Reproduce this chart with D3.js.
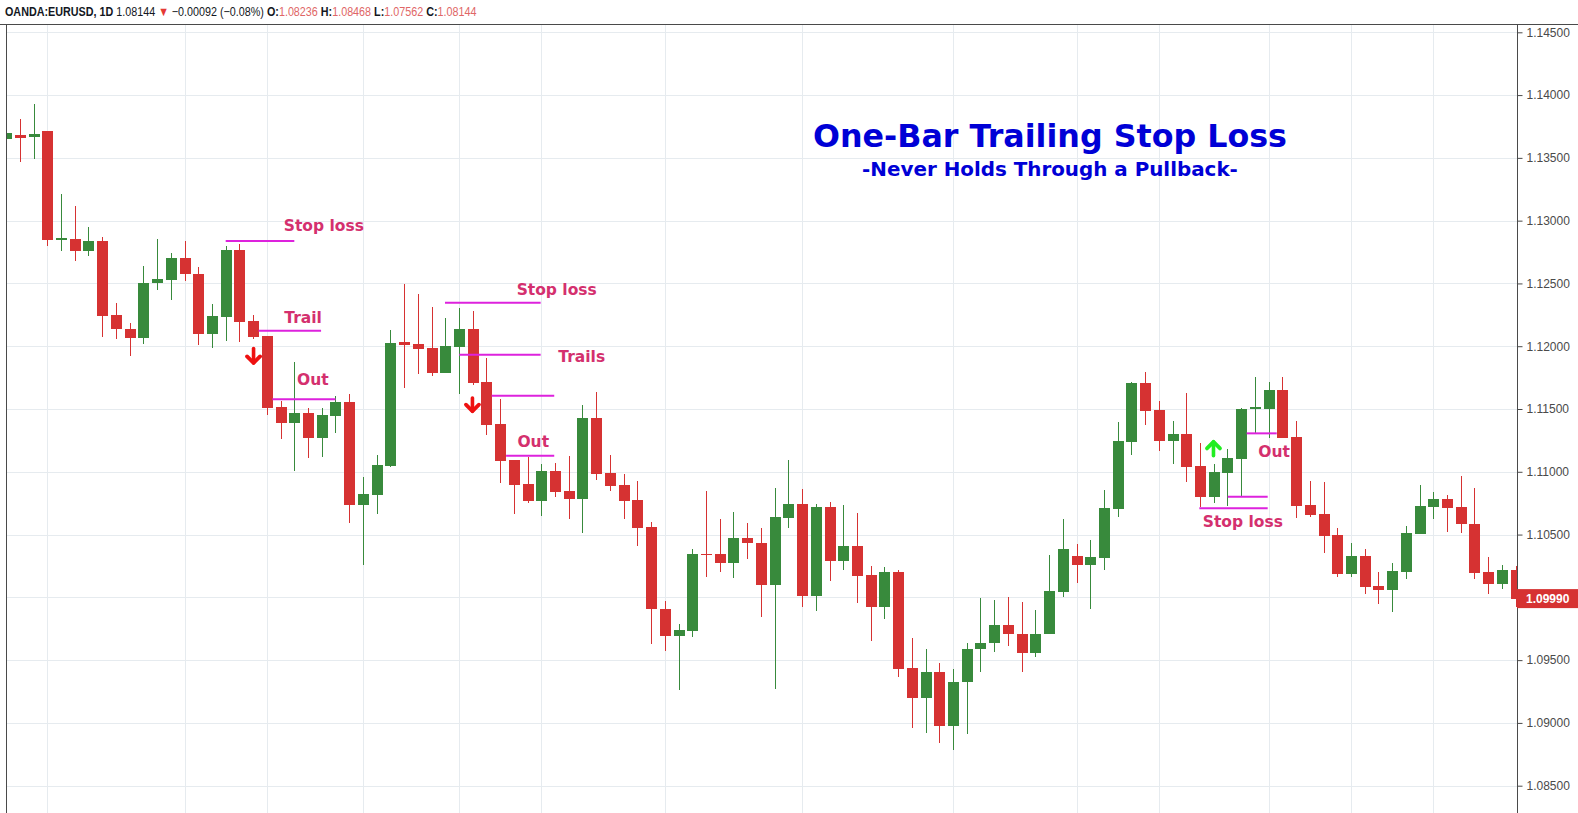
<!DOCTYPE html>
<html><head><meta charset="utf-8">
<script src="https://cdn.jsdelivr.net/npm/d3@7/dist/d3.min.js"></script>
<style>html,body{margin:0;padding:0;background:#fff;overflow:hidden}</style>
</head><body><svg id="c" width="1578" height="813"></svg>
<script>
// ---- data (EUR/USD daily candles) ----
const opens  = [1.13653,1.13680,1.13665,1.13717,1.12850,1.12854,1.12761,1.12838,1.12246,1.12135,
1.12067,1.12501,1.12530,1.12700,1.12573,1.12095,1.12235,1.12767,1.12201,1.12083,
1.11518,1.11391,1.11466,1.11272,1.11447,1.11553,1.10738,1.10818,1.11049,1.12030,
1.12019,1.11983,1.11790,1.11996,1.12137,1.11715,1.11381,1.11094,1.10903,1.10770,
1.11006,1.10846,1.10783,1.11431,1.10993,1.10895,1.10775,1.10558,1.09907,1.09695,
1.09735,1.10346,1.10346,1.10271,1.10470,1.10430,1.10098,1.10635,1.10743,1.10013,
1.10722,1.10292,1.10409,1.10178,1.09926,1.10200,1.09435,1.09201,1.09403,1.08978,
1.09323,1.09586,1.09634,1.09780,1.09706,1.09555,1.09706,1.10045,1.10330,1.10258,
1.10317,1.10704,1.11241,1.11710,1.11492,1.11248,1.11301,1.11046,1.10797,1.10993,
1.11102,1.11499,1.11500,1.11651,1.11275,1.10736,1.10664,1.10499,1.10186,1.10330,
1.10091,1.10059,1.10205,1.10505,1.10722,1.10781,1.10717,1.10582,1.10200,1.10107,1.10218];
const highs  = [1.13710,1.13807,1.13929,1.13717,1.13212,1.13117,1.12951,1.12867,1.12347,1.12183,
1.12639,1.12854,1.12745,1.12838,1.12628,1.12336,1.12799,1.12812,1.12250,1.12083,
1.11560,1.11877,1.11505,1.11510,1.11606,1.11620,1.10962,1.11131,1.12130,1.12496,
1.12416,1.12310,1.12222,1.12302,1.12283,1.11904,1.11580,1.11094,1.11120,1.11060,
1.11073,1.11127,1.11532,1.11633,1.11130,1.10980,1.10927,1.10598,1.09971,1.09788,
1.10383,1.10848,1.10622,1.10682,1.10590,1.10550,1.10868,1.11094,1.10863,1.10741,
1.10762,1.10736,1.10674,1.10250,1.10240,1.10220,1.09674,1.09587,1.09480,1.09430,
1.09634,1.09997,1.09979,1.10000,1.09961,1.09899,1.10337,1.10622,1.10425,1.10457,
1.10855,1.11399,1.11715,1.11797,1.11564,1.11407,1.11630,1.11232,1.11062,1.11180,
1.11510,1.11757,1.11718,1.11757,1.11405,1.10927,1.10916,1.10550,1.10431,1.10385,
1.10201,1.10277,1.10568,1.10895,1.10841,1.10815,1.10966,1.10868,1.10324,1.10258,1.10247];
const lows   = [1.13640,1.13470,1.13494,1.12801,1.12755,1.12682,1.12722,1.12072,1.12061,1.11925,
1.12014,1.12448,1.12369,1.12522,1.12011,1.11987,1.12045,1.12032,1.12055,1.11453,
1.11263,1.11006,1.11113,1.11118,1.11311,1.10594,1.10258,1.10662,1.11040,1.11671,
1.11779,1.11763,1.11790,1.11617,1.11692,1.11293,1.10908,1.10662,1.10754,1.10650,
1.10803,1.10624,1.10511,1.10937,1.10850,1.10622,1.10411,1.09626,1.09576,1.09262,
1.09683,1.10160,1.10200,1.10152,1.10303,1.09846,1.09268,1.10553,1.09926,1.09894,
1.10130,1.10218,1.09958,1.09652,1.09826,1.09368,1.08958,1.08918,1.08842,1.08784,
1.08913,1.09408,1.09567,1.09615,1.09408,1.09523,1.09706,1.10005,1.10117,1.09907,
1.10218,1.10643,1.11137,1.11373,1.11167,1.11059,1.10920,1.10722,1.10754,1.10730,
1.10802,1.11306,1.11272,1.11272,1.10630,1.10643,1.10356,1.10160,1.10160,1.10026,
1.09947,1.09886,1.10144,1.10505,1.10622,1.10523,1.10515,1.10144,1.10027,1.10064,1.09926];
const closes = [1.13696,1.13660,1.13694,1.12846,1.12860,1.12761,1.12838,1.12243,1.12135,1.12067,
1.12501,1.12536,1.12700,1.12573,1.12095,1.12240,1.12767,1.12196,1.12076,1.11510,
1.11391,1.11466,1.11272,1.11452,1.11553,1.10738,1.10823,1.11052,1.12028,1.12012,
1.11978,1.11790,1.12002,1.12137,1.11710,1.11373,1.11088,1.10897,1.10770,1.11006,
1.10841,1.10783,1.11431,1.10986,1.10887,1.10770,1.10555,1.09905,1.09695,1.09740,
1.10346,1.10340,1.10271,1.10470,1.10430,1.10098,1.10638,1.10743,1.10013,1.10722,
1.10292,1.10409,1.10172,1.09926,1.10200,1.09432,1.09201,1.09403,1.08978,1.09323,
1.09586,1.09634,1.09780,1.09706,1.09555,1.09706,1.10050,1.10385,1.10258,1.10320,
1.10710,1.11246,1.11710,1.11487,1.11248,1.11301,1.11040,1.10797,1.10996,1.11108,
1.11500,1.11513,1.11651,1.11272,1.10730,1.10656,1.10491,1.10186,1.10330,1.10085,
1.10059,1.10210,1.10510,1.10728,1.10781,1.10714,1.10582,1.10197,1.10107,1.10218,1.09990];
const priceTicks = [1.085,1.090,1.095,1.100,1.105,1.110,1.115,1.120,1.125,1.130,1.135,1.140,1.145];
const gridBars = [3,13,19,26,33,39,48,58,69,78,84,92,98,104];
const lastPrice = 1.09990;
const headerParts = [
  ["OANDA:EURUSD, 1D ","#131722",700],["1.08144","#131722",400],[" \u25BC ","#e53935",400],
  ["\u22120.00092 (\u22120.08%) ","#131722",400],
  ["O:","#131722",700],["1.08236 ","#e06666",400],["H:","#131722",700],["1.08468 ","#e06666",400],
  ["L:","#131722",700],["1.07562 ","#e06666",400],["C:","#131722",700],["1.08144","#e06666",400]];
const titleText = "One-Bar Trailing Stop Loss";
const subtitleText = "-Never Holds Through a Pullback-";
// annotation levels: [fromBar, toBar, price]
const annoLines = [[16.0,21.0,1.12838],[18.4,22.95,1.12123],[19.4,24.0,1.11577],
  [31.98,38.95,1.12346],[33.02,38.95,1.11932],[35.38,39.94,1.11606],[36.43,39.94,1.11128],
  [86.95,91.93,1.10709],[89.02,91.93,1.10802],[90.4,92.59,1.11306]];
// labels: [text, leftBar, baselinePrice]
const annoLabels = [["Stop loss",20.23,1.12917],["Trail",20.27,1.12182],["Out",21.2,1.11691],
  ["Stop loss",37.2,1.12408],["Trails",40.24,1.11877],["Out",37.26,1.11200],
  ["Stop loss",87.2,1.10562],["Out",91.25,1.11120]];
// arrows: [bar, topPrice, bottomPrice, direction]
const arrows = [[18.03,1.11994,1.11851,"down"],[33.98,1.11600,1.11467,"down"],[87.98,1.11254,1.11116,"up"]];

// ---- drawing ----
const svg = d3.select("#c");
const W = 1578, H = 813;
const P = {l:7, t:24, r:1517, b:813};
const n = opens.length;
const x = d3.scaleLinear().domain([0, n-1]).range([6.13, 1515.66]);
const y = d3.scaleLinear().domain([1.085, 1.145]).range([785.7, 32.3]);
const UP = "#388a3c", DOWN = "#d63232", GRID = "#e6ebef", FRAME = "#4a4a4a";

svg.append("rect").attr("width",W).attr("height",H).attr("fill","#fff");
svg.append("defs").append("clipPath").attr("id","pc").append("rect")
  .attr("x",P.l).attr("y",P.t).attr("width",P.r-P.l).attr("height",P.b-P.t);

const g = svg.append("g").attr("clip-path","url(#pc)");
// grid
g.selectAll(".hg").data(priceTicks).join("line")
  .attr("x1",P.l).attr("x2",P.r).attr("y1",d=>Math.round(y(d))+0.5).attr("y2",d=>Math.round(y(d))+0.5)
  .attr("stroke",GRID).attr("stroke-width",1);
g.selectAll(".vg").data(gridBars).join("line")
  .attr("y1",P.t).attr("y2",P.b).attr("x1",d=>Math.round(x(d))+0.5).attr("x2",d=>Math.round(x(d))+0.5)
  .attr("stroke",GRID).attr("stroke-width",1);

// candles
const bars = d3.range(n).map(i=>({i,o:opens[i],h:highs[i],l:lows[i],c:closes[i]}));
const bw = 11;
const cg = g.append("g").attr("shape-rendering","crispEdges");
cg.selectAll(".w").data(bars).join("line")
  .attr("x1",d=>Math.round(x(d.i))+0.5).attr("x2",d=>Math.round(x(d.i))+0.5)
  .attr("y1",d=>y(d.h)).attr("y2",d=>y(d.l))
  .attr("stroke",d=>d.c>=d.o?UP:DOWN).attr("stroke-width",1);
cg.selectAll(".b").data(bars).join("rect")
  .attr("x",d=>Math.round(x(d.i))-5).attr("width",bw)
  .attr("y",d=>y(Math.max(d.o,d.c)))
  .attr("height",d=>Math.max(1.5, Math.abs(y(d.o)-y(d.c))))
  .attr("fill",d=>d.c>=d.o?UP:DOWN);

// annotation lines
g.selectAll(".al").data(annoLines).join("line")
  .attr("x1",d=>x(d[0])).attr("x2",d=>x(d[1])).attr("y1",d=>y(d[2])).attr("y2",d=>y(d[2]))
  .attr("stroke","#dd22dd").attr("stroke-width",2);
g.selectAll(".at").data(annoLabels).join("text")
  .attr("x",d=>x(d[1])).attr("y",d=>y(d[2]))
  .attr("font-family","DejaVu Sans").attr("font-weight","bold").attr("font-size",15.5)
  .attr("fill","#d4306e").text(d=>d[0]);
// arrows
arrows.forEach(([b,pt,pb,dir])=>{
  const cx = x(b), yt = y(pt), yb = y(pb);
  const col = dir==="down" ? "#ee1111" : "#22ee22";
  const a = g.append("g").attr("stroke",col).attr("fill","none")
    .attr("stroke-linecap","round").attr("stroke-linejoin","round");
  if (dir==="down") {
    a.append("line").attr("x1",cx).attr("x2",cx).attr("y1",yt+1.5).attr("y2",yb-2).attr("stroke-width",3.6);
    a.append("polyline").attr("points",`${cx-6.5},${yb-8.5} ${cx},${yb-2} ${cx+6.5},${yb-8.5}`).attr("stroke-width",3.8);
  } else {
    a.append("line").attr("x1",cx).attr("x2",cx).attr("y1",yb-1.5).attr("y2",yt+2).attr("stroke-width",3.6);
    a.append("polyline").attr("points",`${cx-6.5},${yt+8.5} ${cx},${yt+2} ${cx+6.5},${yt+8.5}`).attr("stroke-width",3.8);
  }
});

// title
function fit(sel, target){
  const w = sel.node().getComputedTextLength();
  const fs = +sel.attr("font-size");
  sel.attr("font-size", fs*target/w);
}
const t1 = svg.append("text").attr("x",1050).attr("y",147).attr("text-anchor","middle")
  .attr("font-family","DejaVu Sans").attr("font-weight","bold").attr("font-size",30)
  .attr("fill","#0000d6").text(titleText);
fit(t1, 474);
const t2 = svg.append("text").attr("x",1050).attr("y",176).attr("text-anchor","middle")
  .attr("font-family","DejaVu Sans").attr("font-weight","bold").attr("font-size",18)
  .attr("fill","#0000d6").text(subtitleText);
fit(t2, 376);

// frame
svg.append("line").attr("x1",0).attr("x2",W).attr("y1",P.t+0.5).attr("y2",P.t+0.5).attr("stroke",FRAME);
svg.append("line").attr("x1",P.l-0.5).attr("x2",P.l-0.5).attr("y1",P.t).attr("y2",H).attr("stroke",FRAME);

// right axis
const ax = svg.append("g").attr("transform",`translate(${P.r+0.5},0)`)
  .call(d3.axisRight(y).tickValues(priceTicks).tickFormat(d3.format(".5f")).tickSize(5).tickPadding(4));
ax.select(".domain").remove();
ax.selectAll(".tick line").attr("stroke",FRAME);
ax.selectAll(".tick text").attr("fill","#4a4a4a").attr("font-family","Liberation Sans").attr("font-size",12);
svg.append("line").attr("x1",P.r+0.5).attr("x2",P.r+0.5).attr("y1",P.t).attr("y2",H).attr("stroke",FRAME);

// last price tag
const ly = y(lastPrice);
svg.append("rect").attr("x",P.r).attr("y",ly-9.5).attr("width",W-P.r).attr("height",19).attr("fill","#d63232");
svg.append("text").attr("x",P.r+9).attr("y",ly).attr("dy","0.35em")
  .attr("font-family","Liberation Sans").attr("font-weight","bold").attr("font-size",12)
  .attr("fill","#fff").text(d3.format(".5f")(lastPrice));

// header: narrowed horizontally (Calibri-like proportions)
const hg = svg.append("g");
const hd = hg.append("text").attr("x",0).attr("y",0).attr("font-family","Liberation Sans").attr("font-size",12.5);
hd.selectAll("tspan").data(headerParts).join("tspan")
  .attr("fill",d=>d[1]).attr("font-weight",d=>d[2]).text(d=>d[0]);
const hw = hd.node().getComputedTextLength();
hg.attr("transform",`translate(5,16) scale(${472/hw},1)`);
</script></body></html>
